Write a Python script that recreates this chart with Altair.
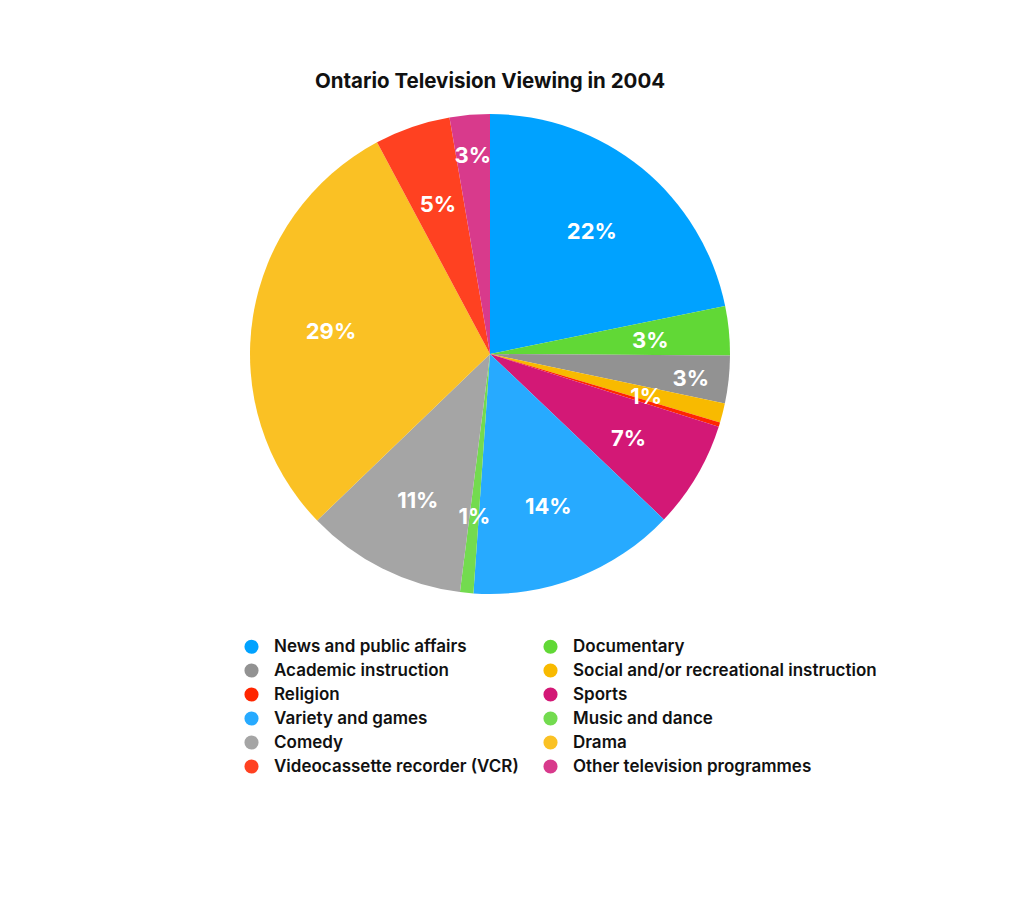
import altair as alt
import pandas as pd

# programme categories, in the order the slices run clockwise from 12 o'clock
categories = [
    "News and public affairs", "Documentary", "Academic instruction",
    "Social and/or recreational instruction", "Religion", "Sports",
    "Variety and games", "Music and dance", "Comedy", "Drama",
    "Videocassette recorder (VCR)", "Other television programmes",
]
shares = [21.8, 3.3, 3.2, 1.3, 0.3, 7.2, 14.0, 0.9, 10.8, 29.4, 5.1, 2.7]
colors = [
    "#00A2FF", "#61D836", "#929292", "#F8BA00", "#FF2600", "#D31876",
    "#27AAFF", "#73DB4F", "#A5A5A5", "#FAC124", "#FF4121", "#D83A8C",
]
# labels pushed further out so they don't crowd their neighbours
outer_labels = ["Academic instruction", "Other television programmes"]

# legend fills column by column, so interleave to read across the rows
legend_order = categories[0::2] + categories[1::2]
legend_colors = colors[0::2] + colors[1::2]

source = pd.DataFrame({"category": categories, "share": shares,
                       "idx": range(len(categories))})

outer_expr = " || ".join(f"datum.category == '{c}'" for c in outer_labels)

base = alt.Chart(source).transform_calculate(
    lab_in=f"({outer_expr}) || datum.share < 0.5 ? '' : round(datum.share) + '%'",
    lab_out=f"({outer_expr}) ? round(datum.share) + '%' : ''",
).encode(
    theta=alt.Theta("share:Q", stack=True),
    order=alt.Order("idx:Q"),
)

pie = base.mark_arc(outerRadius=240).encode(
    color=alt.Color(
        "category:N",
        sort=legend_order,
        scale=alt.Scale(domain=legend_order, range=legend_colors),
        legend=alt.Legend(
            title=None, orient="none", legendX=-7, legendY=524,
            columns=2, columnPadding=23, rowPadding=6, padding=0,
            symbolType="circle", symbolSize=200, symbolStrokeWidth=0,
            labelFont="Inter", labelFontSize=17, labelFontWeight=600,
            labelColor="#111111", labelOffset=14, labelLimit=400,
        ),
    )
)

style = dict(font="Inter", fontSize=22, fontWeight="bold", color="white", dy=3)
text_in = base.mark_text(radius=161, **style).encode(text="lab_in:N")
text_out = base.mark_text(radius=202, **style).encode(text="lab_out:N")

chart = (pie + text_in + text_out).properties(
    width=480,
    height=480,
    autosize=alt.AutoSizeParams(type="none"),
    padding={"left": 242, "top": 106, "right": 270, "bottom": 200},
    title=alt.TitleParams(
        "Ontario Television Viewing in 2004",
        font="Inter", fontSize=20.5, fontWeight="bold", color="#111111",
        anchor="middle", offset=22,
    ),
).configure_view(stroke=None)

chart.save("out.html", embed_options={"renderer": "svg", "actions": False})
